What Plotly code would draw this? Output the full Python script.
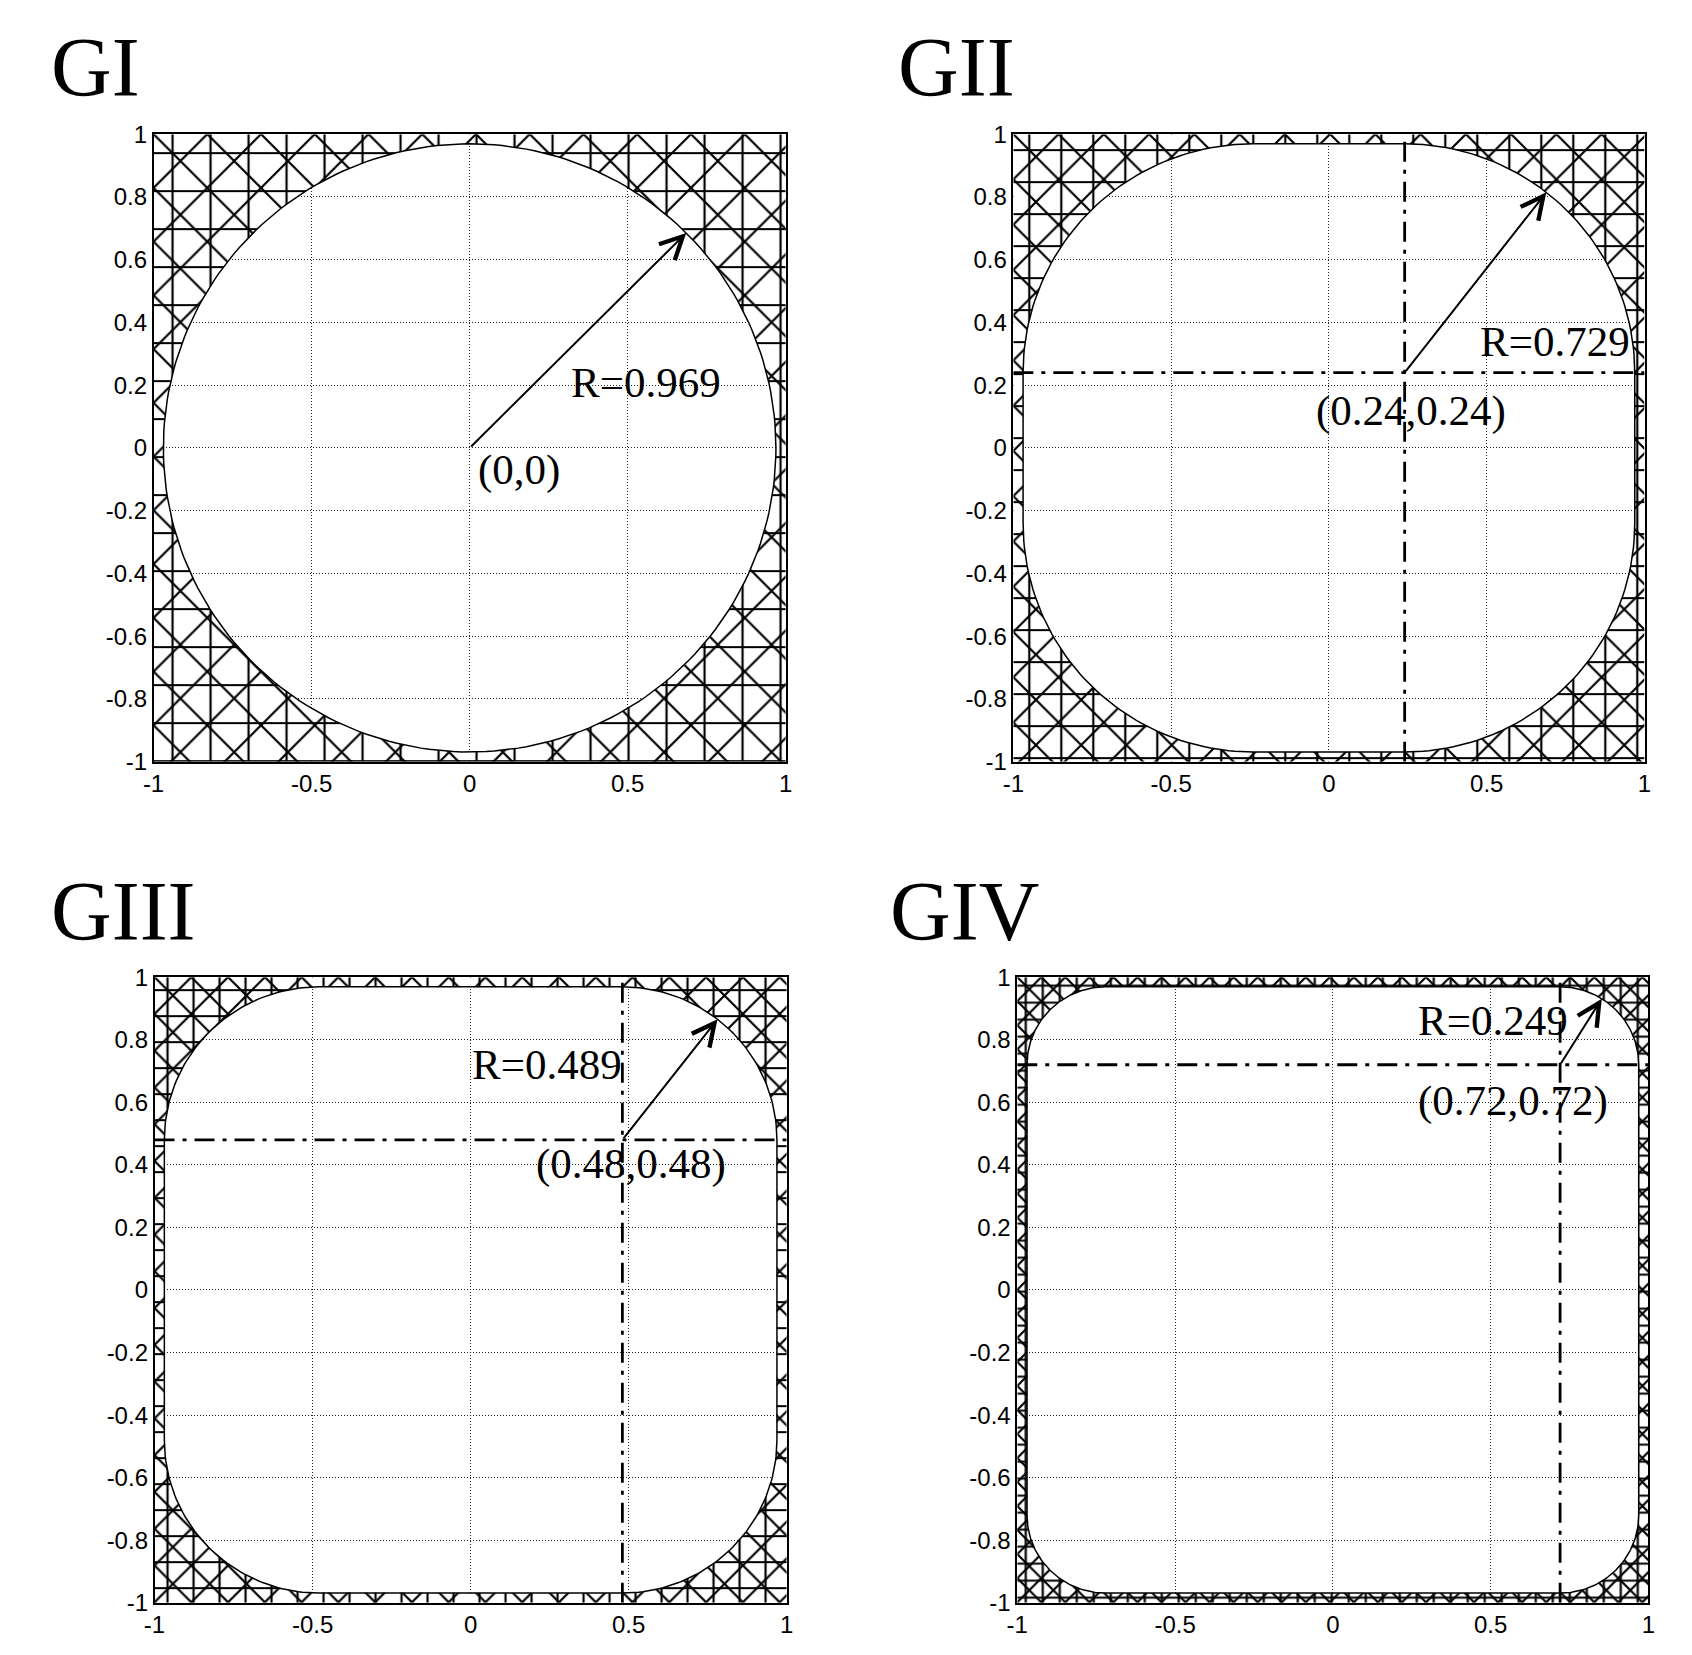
"""Mesh geometries GI-GIV: square domain with rounded-square inclusion."""

import numpy as np
import plotly.graph_objects as go
from plotly.subplots import make_subplots

# data
panel_names = ["GI", "GII", "GIII", "GIV"]
centers = [0.0, 0.24, 0.48, 0.72]
radii = [0.969, 0.729, 0.489, 0.249]
arrow_angles = [45, 52, 52, 58]
r_labels = ["R=0.969", "R=0.729", "R=0.489", "R=0.249"]
c_labels = ["(0,0)", "(0.24,0.24)", "(0.48,0.48)", "(0.72,0.72)"]
x_ticks = [-1, -0.5, 0, 0.5, 1]
x_tick_labels = ["-1", "-0.5", "0", "0.5", "1"]
y_ticks = [-1, -0.8, -0.6, -0.4, -0.2, 0, 0.2, 0.4, 0.6, 0.8, 1]
y_tick_labels = ["-1", "-0.8", "-0.6", "-0.4", "-0.2", "0", "0.2", "0.4", "0.6", "0.8", "1"]

W, H = 1692, 1655
# plot areas in pixels: (left, right, top, bottom)
boxes = [(136, 775, 114, 752), (1005, 1643, 114, 752),
         (137, 776, 971, 1607), (1009, 1647, 971, 1607)]
title_pos = [(30, 46), (886, 46), (30, 904), (878, 904)]
label_pos = [((0.313, 0.209), (0.019, -0.07)),
             ((0.472, 0.338), (-0.046, 0.117)),
             ((-0.003, 0.722), (0.2, 0.402)),
             ((0.264, 0.86), (0.264, 0.605))]
mesh_size = [38, 32, 26, 17]
mesh_lw = 2.2


def rounded_square(c, r, n=60):
    """Closed outline (counter-clockwise) of a rounded square, corner centres at (+-c, +-c)."""
    xs, ys = [], []
    for cx, cy, a0 in [(c, c, 0), (-c, c, 90), (-c, -c, 180), (c, -c, 270)]:
        t = np.radians(np.linspace(a0, a0 + 90, n))
        xs.extend(cx + r * np.cos(t))
        ys.extend(cy + r * np.sin(t))
    xs.append(xs[0])
    ys.append(ys[0])
    return np.array(xs), np.array(ys)


fig = make_subplots(rows=2, cols=2)

for i, name in enumerate(panel_names):
    row, col = i // 2 + 1, i % 2 + 1
    c, r = centers[i], radii[i]
    ix, iy = rounded_square(c, r)
    h = c + r
    # outer square ccw, bridge to the inner outline, inner outline cw -> ring
    ox = [1, 1, -1, -1, 1, 1]
    oy = [0, 1, 1, -1, -1, 0]
    px = ox + [h] + list(ix[::-1]) + [h, 1]
    py = oy + [c] + list(iy[::-1]) + [c, 0]
    size = mesh_size[i]
    sol = 1 - (1 - mesh_lw / size) ** 2
    for shape, bg in [("x", "white"), ("+", "rgba(0,0,0,0)")]:
        fig.add_trace(go.Scatter(
            x=px, y=py, mode="lines", fill="toself",
            line=dict(width=0, color="black"),
            fillcolor="white",
            fillpattern=dict(shape=shape, size=size, solidity=sol,
                             fgcolor="black", fgopacity=1, bgcolor=bg),
            hoverinfo="skip", showlegend=False,
        ), row=row, col=col)
    fig.add_trace(go.Scatter(
        x=ix, y=iy, mode="lines", line=dict(color="black", width=1.5),
        hoverinfo="skip", showlegend=False,
    ), row=row, col=col)

    if i > 0:
        fig.add_trace(go.Scatter(
            x=[-1, 1, None, c, c], y=[c, c, None, -1, 1], mode="lines",
            line=dict(color="black", width=2.8, dash="20px,8px,4px,8px"),
            hoverinfo="skip", showlegend=False,
        ), row=row, col=col)

    xref = "x" if i == 0 else f"x{i + 1}"
    yref = "y" if i == 0 else f"y{i + 1}"
    a = np.radians(arrow_angles[i])
    fig.add_annotation(
        x=c + r * np.cos(a), y=c + r * np.sin(a), ax=c, ay=c,
        xref=xref, yref=yref, axref=xref, ayref=yref,
        text="", showarrow=True, arrowhead=5, arrowsize=2.2, arrowwidth=2,
        arrowcolor="black", standoff=0,
    )
    (rlx, rly), (clx, cly) = label_pos[i]
    fig.add_annotation(x=rlx, y=rly, xref=xref, yref=yref, text=r_labels[i],
                       showarrow=False, xanchor="left", yanchor="middle",
                       font=dict(family="Liberation Serif", size=43, color="black"))
    fig.add_annotation(x=clx, y=cly, xref=xref, yref=yref, text=c_labels[i],
                       showarrow=False, xanchor="left", yanchor="middle",
                       font=dict(family="Liberation Serif", size=43, color="black"))

    tx, ty = title_pos[i]
    fig.add_annotation(x=tx / W, y=1 - ty / H, xref="paper", yref="paper",
                       text=name, showarrow=False, xanchor="left", yanchor="middle",
                       font=dict(family="Liberation Serif", size=84, color="black"))

    left, right, top, bottom = boxes[i]
    fig.update_xaxes(domain=[left / W, right / W], range=[-1, 1],
                     tickvals=x_ticks, ticktext=x_tick_labels, row=row, col=col)
    fig.update_yaxes(domain=[1 - bottom / H, 1 - top / H], range=[-1, 1],
                     tickvals=y_ticks, ticktext=y_tick_labels, row=row, col=col)

axis_style = dict(showline=True, mirror=True, linecolor="black", linewidth=1.5,
                  showgrid=True, gridcolor="#222", gridwidth=1, griddash="1px,2px",
                  zeroline=False, ticks="",
                  tickfont=dict(family="Liberation Sans", size=24, color="black"))
fig.update_xaxes(**axis_style)
fig.update_yaxes(**axis_style)

fig.update_layout(
    width=W, height=H, margin=dict(l=0, r=0, t=0, b=0),
    plot_bgcolor="white", paper_bgcolor="white", showlegend=False,
)

fig.write_html("out.html")
